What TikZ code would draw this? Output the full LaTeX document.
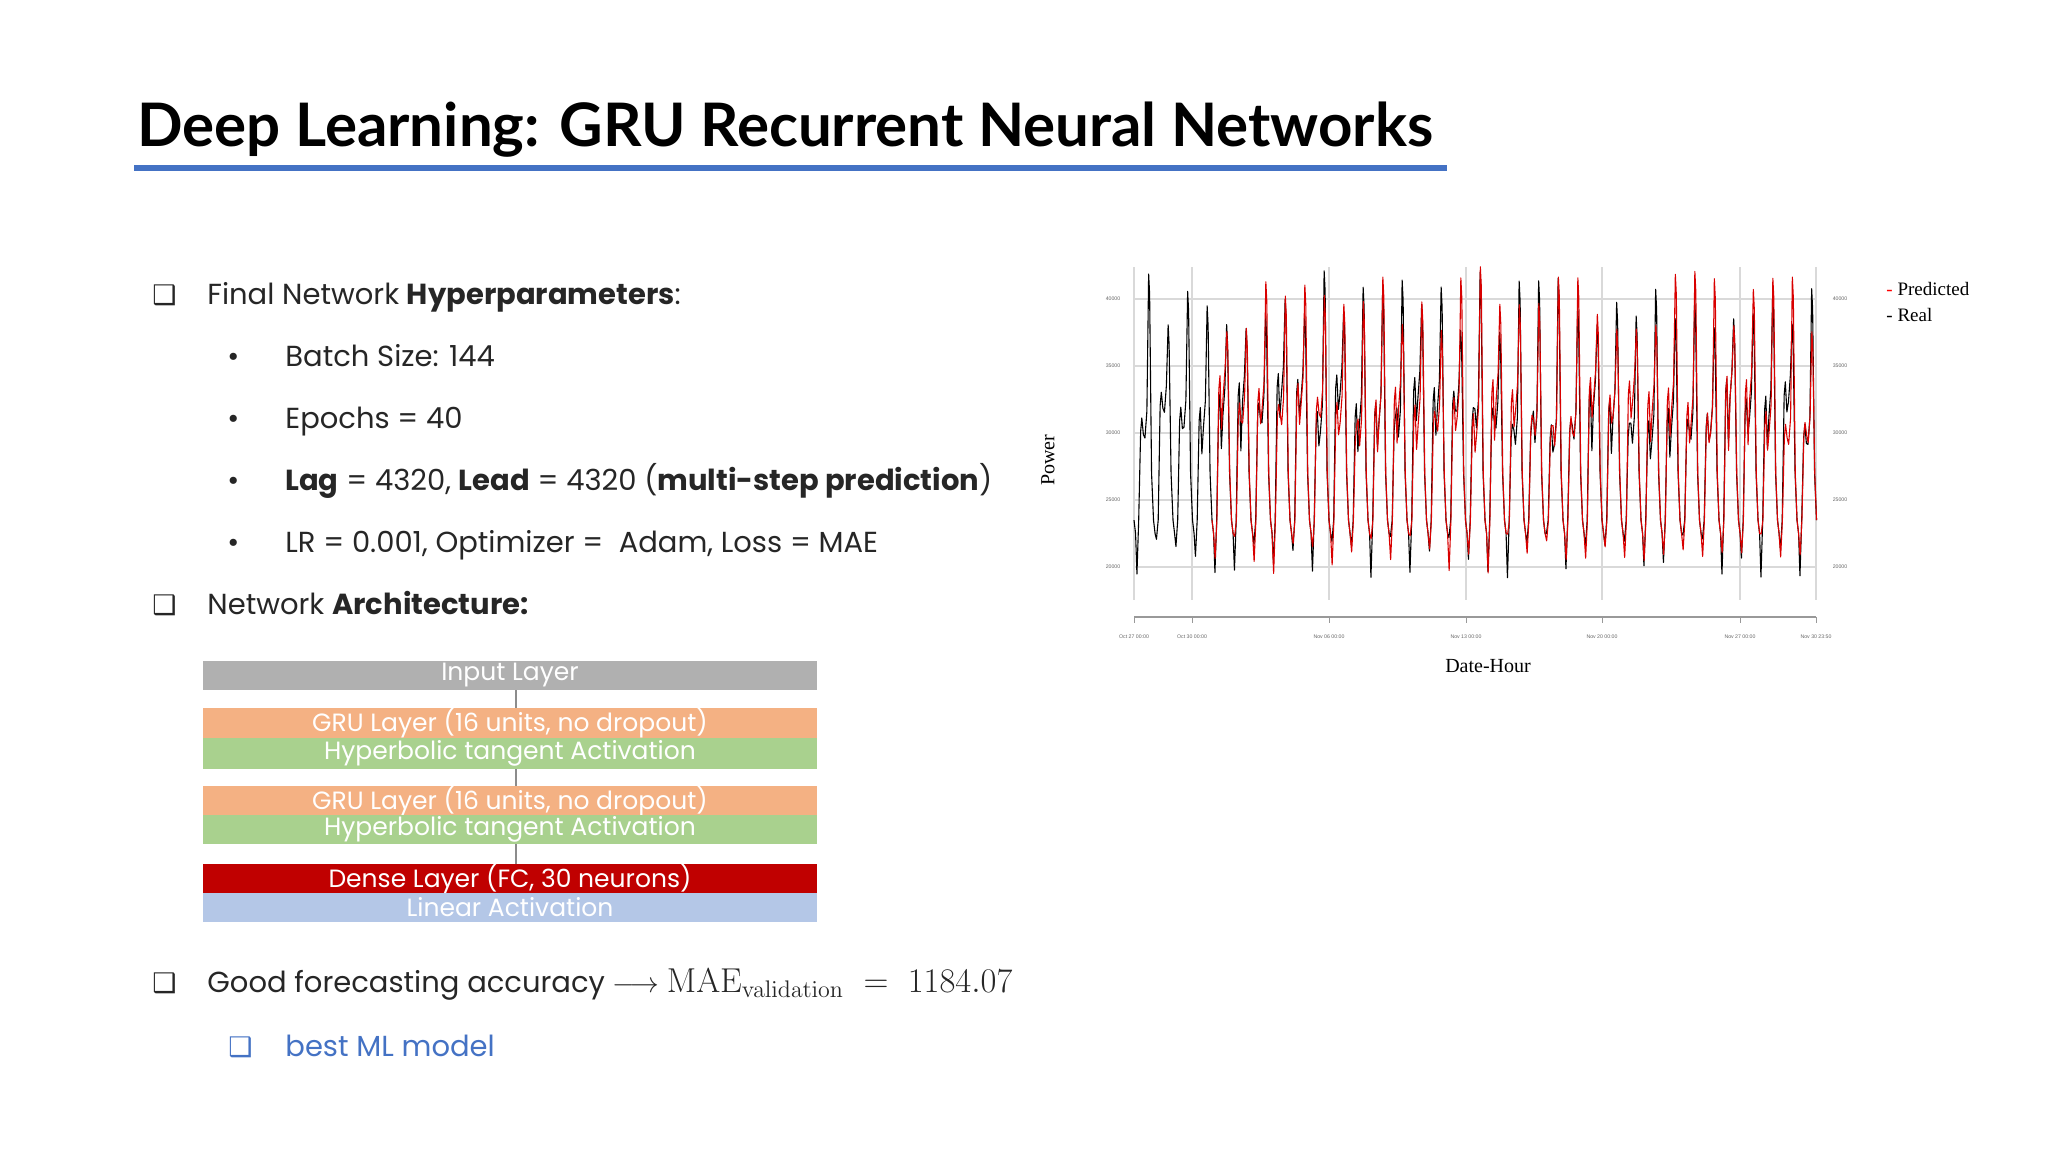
\documentclass[tikz,border=0pt]{standalone}
\usepackage[no-math]{fontspec}
\setmainfont{Poppins}
\newfontfamily\titlefont{Lato}
\newfontfamily\dejavu{DejaVu Sans}
\newfontfamily\serifch{Liberation Serif}
\newfontfamily\sanch{Liberation Sans}
\definecolor{tblue}{HTML}{4472C4}
\definecolor{lgrey}{HTML}{B0B0B0}
\definecolor{lorange}{HTML}{F4B183}
\definecolor{lgreen}{HTML}{A9D18E}
\definecolor{dred}{HTML}{C00000}
\definecolor{lblue}{HTML}{B4C7E7}
\definecolor{txt}{HTML}{262626}
\newcommand\sqb{{\dejavu\bfseries ❑}}
\begin{document}
\begin{tikzpicture}[x=0.5pt,y=-0.5pt,
  declare function={X(\t)=1134+19.5*\t; Y(\v)=299+(40-\v)*13.4;},
  body/.style={anchor=base west,font=\fontsize{14.5}{16}\selectfont,text=txt,inner sep=0},
  bul/.style={anchor=base west,font=\fontsize{13.5}{14}\selectfont,text=txt,inner sep=0},
  layer/.style={minimum width=307pt,minimum height=#1,inner sep=0,text=white,font=\fontsize{12.5}{12.5}\selectfont},
  tick/.style={font=\sanch\fontsize{2.6}{3}\selectfont,text=black!60,inner sep=0},
  grid/.style={black!15,line width=0.6pt}]
\useasboundingbox (0,0) rectangle (2048,1152);
% title
\node[anchor=base west,inner sep=0,font=\titlefont\bfseries\fontsize{30}{32}\selectfont] (title) at (137,146) {Deep Learning: GRU Recurrent Neural Networks};
\draw[tblue,line width=3pt] (134,168) -- (1447,168);
% bullets
\node[bul] (b1) at (152,304) {\sqb};
\node[body] (t1) at (207,304) {Final Network \textbf{Hyperparameters}:};
\node[body] (d1) at (227,366) {•};
\node[body] (s1) at (285,366) {Batch Size: 144};
\node[body] (d2) at (227,428) {•};
\node[body] (s2) at (285,428) {Epochs = 40};
\node[body] (d3) at (227,490) {•};
\node[body] (s3) at (285,490) {\textbf{Lag} = 4320, \textbf{Lead} = 4320 (\textbf{multi-step prediction})};
\node[body] (d4) at (227,552) {•};
\node[body] (s4) at (285,552) {LR = 0.001, Optimizer = \ Adam, Loss = MAE};
\node[bul] (b2) at (152,614) {\sqb};
\node[body] (t2) at (207,614) {Network \textbf{Architecture:}};
% layers
\draw[black!45,line width=0.8pt] (516,675) -- (516,875);
\node[layer=14.5pt,fill=lgrey] (in) at (510,675) {Input Layer};
\node[layer=14.5pt,fill=lorange] (g1) at (510,723) {GRU Layer (16 units, no dropout)};
\node[layer=15.5pt,fill=lgreen] (h1) at (510,753) {Hyperbolic tangent Activation};
\node[layer=13.5pt,fill=lorange] (g2) at (510,801) {GRU Layer (16 units, no dropout)};
\node[layer=14.5pt,fill=lgreen] (h2) at (510,829) {Hyperbolic tangent Activation};
\node[layer=13.5pt,fill=dred] (de) at (510,879) {Dense Layer (FC, 30 neurons)};
\node[layer=14.5pt,fill=lblue] (li) at (510,907) {Linear Activation};
% result
\node[bul] (b3) at (152,992) {\sqb};
\node[body] (t3) at (207,992) {Good forecasting accuracy $\longrightarrow$ \fontsize{18.5}{19}\selectfont$\mathrm{MAE}_{\mathrm{validation}}\ =\ 1184.07$};
\node[bul,text=tblue] (b4) at (228,1056) {\sqb};
\node[body,text=tblue] (t4) at (285,1056) {best ML model};
% chart
\foreach \yv/\lab in {40/40000,35/35000,30/30000,25/25000,20/20000}{
  \draw[grid] (1134,{Y(\yv)}) -- (1816,{Y(\yv)});
  \node[tick] at (1113,{Y(\yv)}) {\lab};
  \node[tick] at (1840,{Y(\yv)}) {\lab};
}
\foreach \xv/\lab in {1134/Oct 27 00:00,1192/Oct 30 00:00,1329/Nov 06 00:00,1466/Nov 13 00:00,1602/Nov 20 00:00,1740/Nov 27 00:00,1816/Nov 30 23:50}{
  \draw[grid] (\xv,267) -- (\xv,600);
  \draw[black!40] (\xv,617) -- (\xv,623);
  \node[tick] at (\xv,637) {\lab};
}
\draw[black!40,line width=0.6pt] (1134,617) -- (1816,617);
\pgfmathsetseed{7}
\foreach \dd in {0,...,34}{
  \pgfmathsetmacro\pk{37.5+5*rnd}
  \pgfmathsetmacro\lw{19+3.5*rnd}
  \pgfmathsetmacro\md{29.5+4*rnd}
  \pgfmathsetmacro\mb{28+4*rnd}
  \draw[black,line width=0.55pt,line join=round] ({X(\dd)},{Y(23.5)}) -- ({X(\dd+0.08)},{Y(22.5)}) -- ({X(\dd+0.15)},{Y(\lw)}) -- ({X(\dd+0.24)},{Y(23.5)}) -- ({X(\dd+0.34)},{Y(\md)}) -- ({X(\dd+0.4)},{Y(\md+1)}) -- ({X(\dd+0.48)},{Y(\mb)}) -- ({X(\dd+0.56)},{Y(\md-0.5)}) -- ({X(\dd+0.66)},{Y(\md+1.5)}) -- ({X(\dd+0.75)},{Y(\pk)}) -- ({X(\dd+0.8)},{Y(\pk-1.5)}) -- ({X(\dd+0.9)},{Y(27)}) -- ({X(\dd+1)},{Y(23.5)});
}
\pgfmathsetseed{23}
\foreach \dd in {4,...,34}{
  \pgfmathsetmacro\pk{37.5+5*rnd}
  \pgfmathsetmacro\lw{19.5+3*rnd}
  \pgfmathsetmacro\md{29.5+4*rnd}
  \pgfmathsetmacro\mb{28.5+3*rnd}
  \draw[red!85!black,line width=0.55pt,line join=round] ({X(\dd)},{Y(23.5)}) -- ({X(\dd+0.08)},{Y(22.5)}) -- ({X(\dd+0.16)},{Y(\lw)}) -- ({X(\dd+0.25)},{Y(23.5)}) -- ({X(\dd+0.35)},{Y(\md)}) -- ({X(\dd+0.41)},{Y(\md+1)}) -- ({X(\dd+0.49)},{Y(\mb)}) -- ({X(\dd+0.57)},{Y(\md-0.5)}) -- ({X(\dd+0.67)},{Y(\md+1.5)}) -- ({X(\dd+0.76)},{Y(\pk)}) -- ({X(\dd+0.81)},{Y(\pk-1.5)}) -- ({X(\dd+0.91)},{Y(27)}) -- ({X(\dd+1)},{Y(23.5)});
}
\node[rotate=90,font=\serifch\fontsize{10}{11}\selectfont,inner sep=0] (pw) at (1048,460) {Power};
\node[font=\serifch\fontsize{10}{11}\selectfont,inner sep=0] (dh) at (1488,666) {Date-Hour};
\node[anchor=west,font=\serifch\fontsize{9.5}{10}\selectfont,inner sep=0] (lp) at (1886,289) {{\color{red}-} Predicted};
\node[anchor=west,font=\serifch\fontsize{9.5}{10}\selectfont,inner sep=0] (lr) at (1886,315) {- Real};
\end{tikzpicture}
\end{document}
